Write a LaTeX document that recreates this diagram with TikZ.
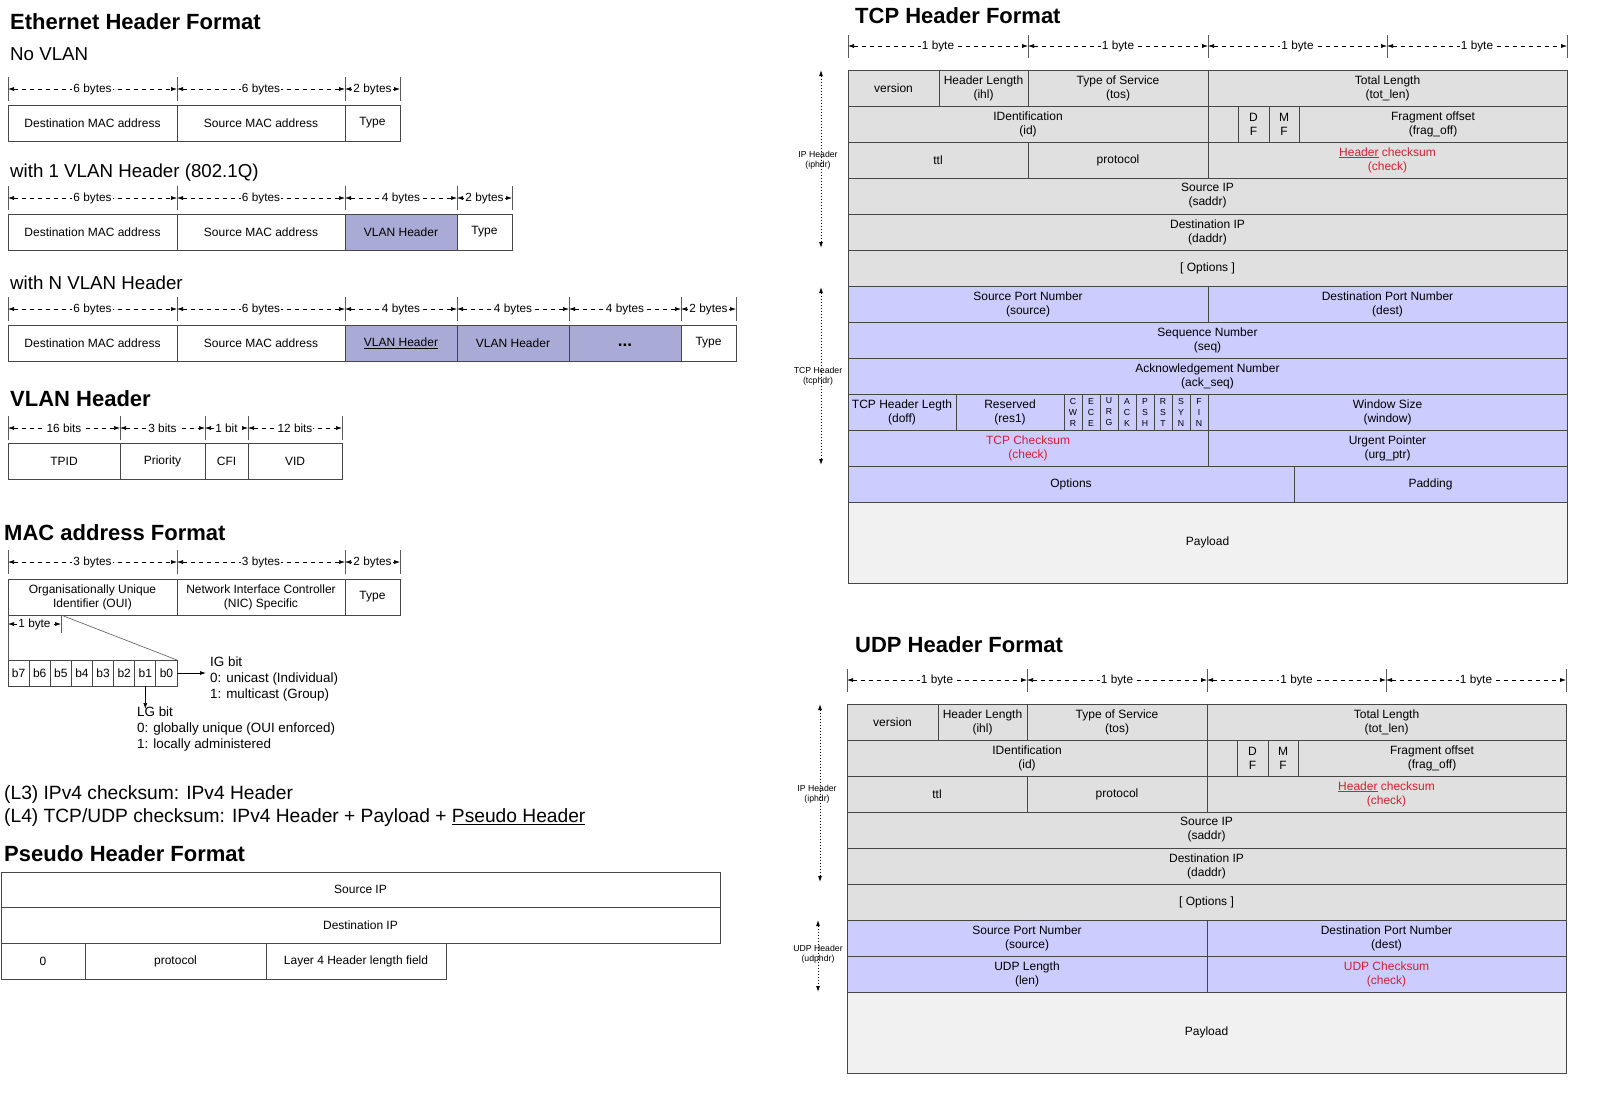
\documentclass[tikz,border=0pt]{standalone}
\usepackage{fontspec}
\setmainfont{Liberation Sans}
\usetikzlibrary{arrows.meta}
\definecolor{ipgray}{RGB}{224,224,224}
\definecolor{tcpblue}{RGB}{204,204,255}
\definecolor{vlanblue}{RGB}{170,170,214}
\definecolor{paygray}{RGB}{241,241,241}
\definecolor{chkred}{RGB}{215,30,50}
\definecolor{linegray}{RGB}{70,70,70}
\newcommand{\cellfont}{\fontsize{12}{14}\selectfont}
\newcommand{\dimfont}{\fontsize{11.8}{13}\selectfont}
\newcommand{\flagfont}{\fontsize{8.7}{11}\selectfont}
\newcommand{\sidefont}{\fontsize{8.7}{10.5}\selectfont}
% optional style, name, x1, y1, x2, y2, fill, text
\newcommand{\fcell}[8][]{\node[cellbox,fill=#7,#1,minimum width={((#5)-(#3))*1pt},minimum height={((#6)-(#4))*1pt}] (#2) at ({((#3)+(#5))/2},{((#4)+(#6))/2}) {#8};}
% name, x1, x2, y, text
\newcommand{\dimn}[5]{\coordinate (#1a) at (#2,#4); \coordinate (#1b) at (#3,#4); \draw[dimarrow] (#1a) -- node[dimlabel] (#1) {#5} (#1b);}
\newcommand{\tickat}[3]{\draw[tickline] (#1,#2) -- (#1,#3);}
\newcommand{\ipblock}[1]{%
  \foreach \xx in {848,1028,1208,1387,1567} {\tickat{\xx}{35}{58}}
  \dimn{#1d1}{848}{1028}{46}{1 byte}
  \dimn{#1d2}{1028}{1208}{46}{1 byte}
  \dimn{#1d3}{1208}{1387}{46}{1 byte}
  \dimn{#1d4}{1387}{1567}{46}{1 byte}
  \fcell{#1ver}{848}{70}{939}{106}{ipgray}{version}
  \fcell{#1ihl}{939}{70}{1028}{106}{ipgray}{Header Length\\(ihl)}
  \fcell{#1tos}{1028}{70}{1208}{106}{ipgray}{Type of Service\\(tos)}
  \fcell{#1tot}{1208}{70}{1567}{106}{ipgray}{Total Length\\(tot\_len)}
  \fcell{#1id}{848}{106}{1208}{142}{ipgray}{IDentification\\(id)}
  \fcell{#1rf}{1208}{106}{1238}{142}{ipgray}{}
  \fcell{#1df}{1238}{106}{1269}{142}{ipgray}{D\\F}
  \fcell{#1mf}{1269}{106}{1299}{142}{ipgray}{M\\F}
  \fcell{#1frag}{1299}{106}{1567}{142}{ipgray}{Fragment offset\\(frag\_off)}
  \fcell{#1ttl}{848}{142}{1028}{178}{ipgray}{ttl}
  \fcell{#1proto}{1028}{142}{1208}{178}{ipgray}{protocol}
  \fcell[text=chkred]{#1chk}{1208}{142}{1567}{178}{ipgray}{\underline{Header} checksum\\(check)}
  \fcell{#1sip}{848}{178}{1567}{214}{ipgray}{Source IP\\(saddr)}
  \fcell{#1dip}{848}{214}{1567}{250}{ipgray}{Destination IP\\(daddr)}
  \fcell{#1opt}{848}{250}{1567}{286}{ipgray}{[ Options ]}
  \coordinate (#1iptop) at (821,70);
  \coordinate (#1ipbot) at (821,248);
  \draw[vdim] (#1iptop) -- (#1ipbot);
  \node[sidelabel] (#1iplabel) at (818,160) {IP Header\\(iphdr)};
}
\begin{document}
\begin{tikzpicture}[x=1pt,y=-1pt,
  cellbox/.style={draw=linegray,line width=0.8pt,align=center,inner sep=0pt,outer sep=0pt,font=\cellfont},
  dimarrow/.style={draw=black,line width=0.6pt,dash pattern=on 4.5pt off 3.5pt,{Latex[length=6pt,width=4pt]}-{Latex[length=6pt,width=4pt]}},
  dimlabel/.style={fill=white,inner sep=1pt,font=\dimfont},
  tickline/.style={draw=black!65,line width=0.6pt},
  heading/.style={anchor=west,inner sep=0pt,font=\fontsize{22}{26}\selectfont\bfseries},
  subhead/.style={anchor=west,inner sep=0pt,font=\fontsize{18.7}{22}\selectfont},
  bodytext/.style={anchor=west,inner sep=0pt,font=\fontsize{19.2}{23}\selectfont},
  vdim/.style={draw=black,line width=0.9pt,dash pattern=on 1.5pt off 1.5pt,{Latex[length=6pt,width=4pt]}-{Latex[length=6pt,width=4pt]}},
  sidelabel/.style={align=center,inner sep=0pt,font=\sidefont},
  bitnote/.style={anchor=north west,align=left,inner sep=0pt,font=\fontsize{13.4}{16}\selectfont},
  arr/.style={draw=black,line width=0.7pt,-{Latex[length=6pt,width=4pt]}}
]
\useasboundingbox (0,0) rectangle (1600,1096);
\fill[white] (0,0) rectangle (1600,1096);

% ===== Ethernet Header Format =====
\node[heading] (ethtitle) at (10,22) {Ethernet Header Format};
\node[subhead] (novlan) at (10,54) {No VLAN};
\foreach \xx in {8,177,345,400} {\tickat{\xx}{77}{101}}
\dimn{ea1}{8}{177}{89}{6 bytes}
\dimn{ea2}{177}{345}{89}{6 bytes}
\dimn{ea3}{345}{400}{89}{2 bytes}
\fcell{edst}{8}{105}{177}{141}{white}{Destination MAC address}
\fcell{esrc}{177}{105}{345}{141}{white}{Source MAC address}
\fcell{etype}{345}{105}{400}{141}{white}{Type}

\node[subhead] (onevlan) at (10,173) {with 1 VLAN Header (802.1Q)};
\foreach \xx in {8,177,345,457,512} {\tickat{\xx}{186}{210}}
\dimn{eb1}{8}{177}{198}{6 bytes}
\dimn{eb2}{177}{345}{198}{6 bytes}
\dimn{eb3}{345}{457}{198}{4 bytes}
\dimn{eb4}{457}{512}{198}{2 bytes}
\fcell{fdst}{8}{214}{177}{250}{white}{Destination MAC address}
\fcell{fsrc}{177}{214}{345}{250}{white}{Source MAC address}
\fcell{fvlan}{345}{214}{457}{250}{vlanblue}{VLAN Header}
\fcell{ftype}{457}{214}{512}{250}{white}{Type}

\node[subhead] (nvlan) at (10,283) {with N VLAN Header};
\foreach \xx in {8,177,345,457,569,681,736} {\tickat{\xx}{297}{321}}
\dimn{ec1}{8}{177}{309}{6 bytes}
\dimn{ec2}{177}{345}{309}{6 bytes}
\dimn{ec3}{345}{457}{309}{4 bytes}
\dimn{ec4}{457}{569}{309}{4 bytes}
\dimn{ec5}{569}{681}{309}{4 bytes}
\dimn{ec6}{681}{736}{309}{2 bytes}
\fcell{gdst}{8}{325}{177}{361}{white}{Destination MAC address}
\fcell{gsrc}{177}{325}{345}{361}{white}{Source MAC address}
\fcell{gvlan1}{345}{325}{457}{361}{vlanblue}{\underline{VLAN Header}}
\fcell{gvlan2}{457}{325}{569}{361}{vlanblue}{VLAN Header}
\fcell{gvlan3}{569}{325}{681}{361}{vlanblue}{\raisebox{-7pt}{\fontsize{17}{17}\selectfont\textbf{...}}}
\fcell{gtype}{681}{325}{736}{361}{white}{Type}

% ===== VLAN Header =====
\node[heading] (vlantitle) at (10,399) {VLAN Header};
\foreach \xx in {8,120,205,248,342} {\tickat{\xx}{416}{440}}
\dimn{va1}{8}{120}{428}{16 bits}
\dimn{va2}{120}{205}{428}{3 bits}
\dimn{va3}{205}{248}{428}{1 bit}
\dimn{va4}{248}{342}{428}{12 bits}
\fcell{vtpid}{8}{443}{120}{479}{white}{TPID}
\fcell{vprio}{120}{443}{205}{479}{white}{Priority}
\fcell{vcfi}{205}{443}{248}{479}{white}{CFI}
\fcell{vvid}{248}{443}{342}{479}{white}{VID}

% ===== MAC address Format =====
\node[heading] (mactitle) at (4,533) {MAC address Format};
\foreach \xx in {8,177,345,400} {\tickat{\xx}{550}{574}}
\dimn{ma1}{8}{177}{562}{3 bytes}
\dimn{ma2}{177}{345}{562}{3 bytes}
\dimn{ma3}{345}{400}{562}{2 bytes}
\fcell{moui}{8}{579}{177}{615}{white}{Organisationally Unique\\Identifier (OUI)}
\fcell{mnic}{177}{579}{345}{615}{white}{Network Interface Controller\\(NIC) Specific}
\fcell{mtype}{345}{579}{400}{615}{white}{Type}
\draw[tickline] (moui.south west) -- (8,660);
\tickat{61}{615}{633}
\dimn{mb}{8}{61}{624}{1 byte}
\draw[tickline] (61,615) -- (177,660);
\foreach \i/\lab in {0/b7,1/b6,2/b5,3/b4,4/b3,5/b2,6/b1,7/b0} {
  \fcell{\lab}{8+21.125*\i}{660}{8+21.125*(\i+1)}{686}{white}{\lab}
}
\coordinate (igend) at (206,673);
\draw[arr] (b0.east) -- (igend);
\node[bitnote] (ignote) at (210,657) {IG bit\\0: unicast (Individual)\\1: multicast (Group)};
\coordinate (lgend) at (b1.south |- 0,709);
\draw[arr] (b1.south) -- (lgend);
\node[bitnote] (lgnote) at (137,707) {LG bit\\0: globally unique (OUI enforced)\\1: locally administered};

% ===== Checksums =====
\node[bodytext] (l3) at (4,795) {(L3) IPv4 checksum: IPv4 Header};
\node[bodytext] (l4) at (4,818) {(L4) TCP/UDP checksum: IPv4 Header + Payload + \underline{Pseudo Header}};

% ===== Pseudo Header Format =====
\node[heading] (pstitle) at (4,854) {Pseudo Header Format};
\fcell{psip}{1}{872}{720}{907}{white}{Source IP}
\fcell{pdip}{1}{907}{720}{943}{white}{Destination IP}
\fcell{pzero}{1}{943}{85}{979}{white}{0}
\fcell{pproto}{85}{943}{266}{979}{white}{protocol}
\fcell{plen}{266}{943}{446}{979}{white}{Layer 4 Header length field}

% ===== TCP Header Format =====
\node[heading] (tcptitle) at (855,16) {TCP Header Format};
\ipblock{t}
\fcell{tsrc}{848}{286}{1208}{322}{tcpblue}{Source Port Number\\(source)}
\fcell{tdst}{1208}{286}{1567}{322}{tcpblue}{Destination Port Number\\(dest)}
\fcell{tseq}{848}{322}{1567}{358}{tcpblue}{Sequence Number\\(seq)}
\fcell{tack}{848}{358}{1567}{394}{tcpblue}{Acknowledgement Number\\(ack\_seq)}
\fcell{tdoff}{848}{394}{956}{430}{tcpblue}{TCP Header Legth\\(doff)}
\fcell{tres}{956}{394}{1064}{430}{tcpblue}{Reserved\\(res1)}
\foreach \i/\a/\b/\c in {0/C/W/R,1/E/C/E,2/U/R/G,3/A/C/K,4/P/S/H,5/R/S/T,6/S/Y/N,7/F/I/N} {
  \fcell[font=\flagfont]{tflag\i}{1064+18*\i}{394}{1064+18*(\i+1)}{430}{tcpblue}{\a\\\b\\\c}
}
\fcell{twin}{1208}{394}{1567}{430}{tcpblue}{Window Size\\(window)}
\fcell[text=chkred]{tchk}{848}{430}{1208}{466}{tcpblue}{TCP Checksum\\(check)}
\fcell{turg}{1208}{430}{1567}{466}{tcpblue}{Urgent Pointer\\(urg\_ptr)}
\fcell{topt}{848}{466}{1294}{502}{tcpblue}{Options}
\fcell{tpad}{1294}{466}{1567}{502}{tcpblue}{Padding}
\fcell{tpay}{848}{502}{1567}{583}{paygray}{Payload}
\coordinate (tcptop) at (821,287);
\coordinate (tcpbot) at (821,465);
\draw[vdim] (tcptop) -- (tcpbot);
\node[sidelabel] (tcplabel) at (818,376) {TCP Header\\(tcphdr)};

% ===== UDP Header Format =====
\node[heading] (udptitle) at (855,645) {UDP Header Format};
\begin{scope}[shift={(-1,634)}]
\ipblock{u}
\end{scope}
\fcell{usrc}{847}{920}{1207}{956}{tcpblue}{Source Port Number\\(source)}
\fcell{udst}{1207}{920}{1566}{956}{tcpblue}{Destination Port Number\\(dest)}
\fcell{ulen}{847}{956}{1207}{992}{tcpblue}{UDP Length\\(len)}
\fcell[text=chkred]{uchk}{1207}{956}{1566}{992}{tcpblue}{UDP Checksum\\(check)}
\fcell{upay}{847}{992}{1566}{1073}{paygray}{Payload}
\coordinate (udptop) at (818,920);
\coordinate (udpbot) at (818,992);
\draw[vdim] (udptop) -- (udpbot);
\node[sidelabel] (udplabel) at (818,954) {UDP Header\\(udphdr)};
\end{tikzpicture}
\end{document}
